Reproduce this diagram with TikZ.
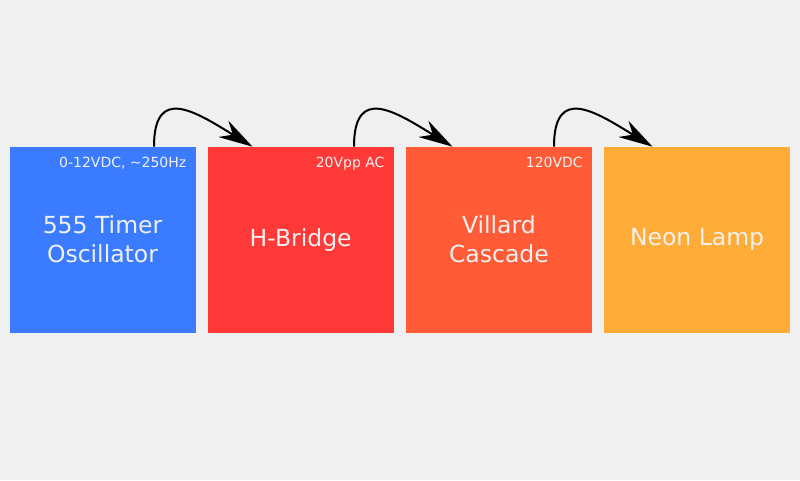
\documentclass[tikz,border=0pt]{standalone}
\usepackage{fontspec}
\setmainfont{DejaVu Sans}
\usetikzlibrary{arrows.meta}
\definecolor{bg}{HTML}{F0F0F0}
\definecolor{cblue}{HTML}{3A7BFF}
\definecolor{cred}{HTML}{FF3838}
\definecolor{corange}{HTML}{FF5B37}
\definecolor{cyellow}{HTML}{FFAD38}
\definecolor{txt}{HTML}{F0F0F0}
\tikzset{
  blockbox/.style={minimum width=186pt, minimum height=186pt, inner sep=0pt, outer sep=0pt,
    anchor=north west, text=txt, align=center,
    font=\fontsize{23.5}{29}\selectfont},
  sublabel/.style={anchor=base east, inner sep=0pt, text=txt, font=\fontsize{14}{16}\selectfont},
  flowarrow/.style={line width=2pt, -{Stealth[length=34pt, width=19pt, inset=11pt]}}
}
\begin{document}
\begin{tikzpicture}[x=1pt, y=-1pt]
\fill[bg] (0,0) rectangle (800,480);
\useasboundingbox (0,0) rectangle (800,480);
\node[blockbox, fill=cblue] (b1) at (9.5,146.7) {555 Timer\\Oscillator};
\node[blockbox, fill=cred] (b2) at (207.7,146.7) {H-Bridge};
\node[blockbox, fill=corange] (b3) at (405.9,146.7) {Villard\\Cascade};
\node[blockbox, fill=cyellow] (b4) at (604.1,146.7) {Neon Lamp};
\node[sublabel] (l1) at ([xshift=-9pt, yshift=-20.5pt]b1.north east) {0-12VDC, \char`\~250Hz};
\node[sublabel] (l2) at ([xshift=-9pt, yshift=-20.5pt]b2.north east) {20Vpp AC};
\node[sublabel] (l3) at ([xshift=-9pt, yshift=-20.5pt]b3.north east) {120VDC};
\coordinate (s1) at (154,146.7);
\coordinate (e1) at (252.5,146.7);
\coordinate (s2) at (354,146.7);
\coordinate (e2) at (452.5,146.7);
\coordinate (s3) at (554,146.7);
\coordinate (e3) at (652.5,146.7);
\draw[flowarrow] (s1) .. controls +(0,-62) and +(-57,-35) .. (e1);
\draw[flowarrow] (s2) .. controls +(0,-62) and +(-57,-35) .. (e2);
\draw[flowarrow] (s3) .. controls +(0,-62) and +(-57,-35) .. (e3);
\end{tikzpicture}
\end{document}
